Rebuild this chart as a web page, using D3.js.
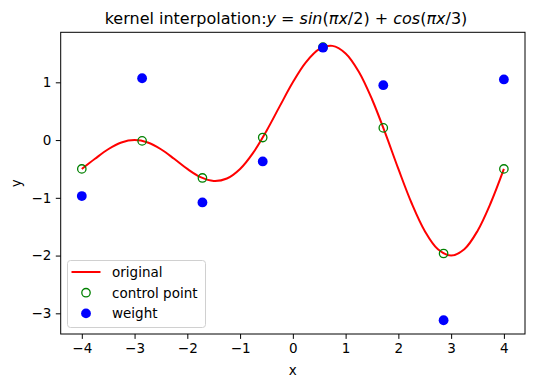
<!DOCTYPE html>
<html>
<head>
<meta charset="utf-8">
<script src="https://cdn.jsdelivr.net/npm/d3@7"></script>
<style>
  body { margin: 0; background: #fff; }
  svg { display: block; font-family: "DejaVu Sans", sans-serif; }
</style>
</head>
<body>
<div id="chart"></div>
<script>
// curve samples of the original function (step 0.25)
var curveX = d3.range(-4, 4.001, 0.25);
var curveY = [-0.5, -0.324, -0.159, -0.042, 0, -0.042, -0.159, -0.324, -0.5,
  -0.642, -0.707, -0.665, -0.5, -0.217, 0.159, 0.583, 1, 1.349, 1.573, 1.631,
  1.5, 1.183, 0.707, 0.124, -0.5, -1.09, -1.573, -1.89, -2, -1.89, -1.573, -1.09, -0.5];

// control points and weights
var ctrlX = [-4, -2.857, -1.714, -0.571, 0.571, 1.714, 2.857, 4];
var ctrlY = [-0.5, -0.014, -0.656, 0.044, 1.608, 0.211, -1.964, -0.5];
var weightY = [-0.97, 1.07, -1.08, -0.37, 1.6, 0.95, -3.12, 1.05];

var xTicks = [-4, -3, -2, -1, 0, 1, 2, 3, 4];
var yTicks = [-3, -2, -1, 0, 1];

var width = 534, height = 387;
var margin = {top: 32.3, right: 9, bottom: 53, left: 60.7};

var svg = d3.select("#chart").append("svg")
  .attr("width", width)
  .attr("height", height);

var x = d3.scaleLinear().domain([-4.4, 4.4]).range([margin.left, width - margin.right]);
var y = d3.scaleLinear().domain([-3.358, 1.866]).range([height - margin.bottom, margin.top]);

var fmt = d => d < 0 ? "\u2212" + Math.abs(d) : String(d);

// axes
var xAxis = svg.append("g")
  .attr("transform", "translate(0," + (height - margin.bottom) + ")")
  .call(d3.axisBottom(x).tickValues(xTicks).tickFormat(fmt).tickSize(4.9).tickPadding(4.5));
var yAxis = svg.append("g")
  .attr("transform", "translate(" + margin.left + ",0)")
  .call(d3.axisLeft(y).tickValues(yTicks).tickFormat(fmt).tickSize(4.9).tickPadding(4.5));
[xAxis, yAxis].forEach(function(g){
  g.select(".domain").remove();
  g.selectAll(".tick line").attr("stroke", "#000").attr("stroke-width", 1);
  g.selectAll(".tick text").attr("fill", "#000").style("font-size", "13.5px")
    .style("font-family", "DejaVu Sans");
});

// frame
svg.append("rect")
  .attr("x", margin.left).attr("y", margin.top)
  .attr("width", width - margin.left - margin.right)
  .attr("height", height - margin.bottom - margin.top)
  .attr("fill", "none").attr("stroke", "#000").attr("stroke-width", 1);

// original curve
var line = d3.line()
  .x((d, i) => x(curveX[i]))
  .y(d => y(d))
  .curve(d3.curveCatmullRom);
svg.append("path")
  .datum(curveY)
  .attr("d", line)
  .attr("fill", "none")
  .attr("stroke", "red")
  .attr("stroke-width", 2);

// control points
svg.selectAll(".ctrl")
  .data(ctrlY)
  .join("circle")
  .attr("class", "ctrl")
  .attr("cx", (d, i) => x(ctrlX[i]))
  .attr("cy", d => y(d))
  .attr("r", 4.2)
  .attr("fill", "none")
  .attr("stroke", "green")
  .attr("stroke-width", 1.3);

// weights
svg.selectAll(".weight")
  .data(weightY)
  .join("circle")
  .attr("class", "weight")
  .attr("cx", (d, i) => x(ctrlX[i]))
  .attr("cy", d => y(d))
  .attr("r", 4.9)
  .attr("fill", "blue");

// title
var title = svg.append("text")
  .attr("x", 286)
  .attr("y", 24)
  .attr("text-anchor", "middle")
  .style("font-size", "16px")
  .attr("fill", "#000");
[["kernel interpolation:", false], ["y", true], [" = ", false], ["sin", true], ["(", false],
 ["\u03c0x", true], ["/2) + ", false], ["cos", true], ["(", false], ["\u03c0x", true], ["/3)", false]]
  .forEach(function(p){
    title.append("tspan").text(p[0]).style("font-style", p[1] ? "italic" : "normal");
  });

// axis labels
svg.append("text")
  .attr("x", (margin.left + width - margin.right) / 2)
  .attr("y", 375)
  .attr("text-anchor", "middle")
  .style("font-size", "13.5px")
  .text("x");
svg.append("text")
  .attr("transform", "translate(21," + ((margin.top + height - margin.bottom) / 2) + ") rotate(-90)")
  .attr("text-anchor", "middle")
  .style("font-size", "13.5px")
  .text("y");

// legend
var legend = svg.append("g");
legend.append("rect")
  .attr("x", 67.5).attr("y", 260.5).attr("width", 138).attr("height", 67)
  .attr("rx", 3)
  .attr("fill", "#fff").attr("fill-opacity", 0.8)
  .attr("stroke", "#d0d0d0").attr("stroke-width", 1);
var legendItems = ["original", "control point", "weight"];
legendItems.forEach(function(name, i){
  var cy = 272 + i * 20.7;
  if (i === 0) {
    legend.append("line").attr("x1", 71.5).attr("x2", 100.5).attr("y1", cy).attr("y2", cy)
      .attr("stroke", "red").attr("stroke-width", 2);
  } else if (i === 1) {
    legend.append("circle").attr("cx", 86).attr("cy", cy).attr("r", 4.2)
      .attr("fill", "none").attr("stroke", "green").attr("stroke-width", 1.3);
  } else {
    legend.append("circle").attr("cx", 86).attr("cy", cy).attr("r", 4.9).attr("fill", "blue");
  }
  legend.append("text").attr("x", 112).attr("y", cy + 4.8)
    .style("font-size", "13.5px").text(name);
});
</script>
</body>
</html>
